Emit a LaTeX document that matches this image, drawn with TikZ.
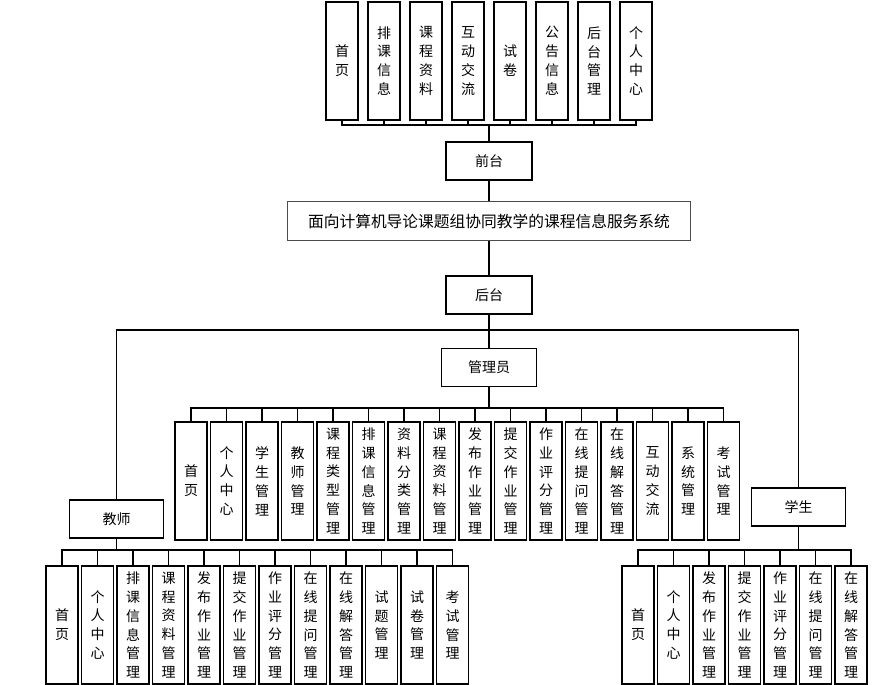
\documentclass[tikz,border=0pt]{standalone}
\usepackage{fontspec}
\setmainfont{Noto Sans CJK SC}
\begin{document}
\begin{tikzpicture}[x=0.75pt,y=-0.75pt,
  box/.style={draw,thick,fill=white,font=\fontsize{10.5pt}{13pt}\selectfont,inner sep=0pt},
  vbox/.style={box,minimum width=24pt,minimum height=88.5pt,align=center,font=\fontsize{10.5pt}{14.2pt}\selectfont},
  hbox/.style={box,minimum height=28.5pt},
  ln/.style={thick}]
\useasboundingbox (0,0) rectangle (885,685);
% top
\node[hbox,minimum width=64.5pt] (qt) at (489,161) {前台};
\coordinate (bt) at (489,125);
\foreach \t [count=\i] in {首\\页,排\\课\\信\\息,课\\程\\资\\料,互\\动\\交\\流,试\\卷,公\\告\\信\\息,后\\台\\管\\理,个\\人\\中\\心}{
  \node[vbox] (t\i) at ({342+42*(\i-1)},61) {\t};
  \draw[ln] (t\i.south) |- (bt);
}
\draw[ln] (qt.north) -- (bt);
\node[box,minimum width=302pt,minimum height=29pt,draw=black!70,font=\fontsize{11.8pt}{14pt}\selectfont] (sys) at (489,221) {面向计算机导论课题组协同教学的课程信息服务系统};
\node[hbox,minimum width=64.5pt] (ht) at (489,295) {后台};
\draw[ln] (qt.south) -- (sys.north);
\draw[ln] (sys.south) -- (ht.north);
\node[hbox,minimum width=71pt] (gly) at (489,367.5) {管理员};
\node[hbox,minimum width=70pt] (js) at (116.5,519) {教师};
\node[hbox,minimum width=70pt] (xs) at (798.5,507) {学生};
\coordinate (br) at (489,330);
\draw[ln] (ht.south) -- (gly.north);
\draw[ln] (js.north) |- (br);
\draw[ln] (xs.north) |- (br);
% admin
\coordinate (ba) at (489,408);
\draw[ln] (gly.south) -- (ba);
\foreach \t [count=\i] in {首\\页,个\\人\\中\\心,学\\生\\管\\理,教\\师\\管\\理,课\\程\\类\\型\\管\\理,排\\课\\信\\息\\管\\理,资\\料\\分\\类\\管\\理,课\\程\\资\\料\\管\\理,发\\布\\作\\业\\管\\理,提\\交\\作\\业\\管\\理,作\\业\\评\\分\\管\\理,在\\线\\提\\问\\管\\理,在\\线\\解\\答\\管\\理,互\\动\\交\\流,系\\统\\管\\理,考\\试\\管\\理}{
  \node[vbox] (a\i) at ({191+35.5*(\i-1)},481) {\t};
  \draw[ln] (a\i.north) |- (ba);
}
% teacher
\coordinate (bj) at (116.5,550);
\draw[ln] (js.south) -- (bj);
\foreach \t [count=\i] in {首\\页,个\\人\\中\\心,排\\课\\信\\息\\管\\理,课\\程\\资\\料\\管\\理,发\\布\\作\\业\\管\\理,提\\交\\作\\业\\管\\理,作\\业\\评\\分\\管\\理,在\\线\\提\\问\\管\\理,在\\线\\解\\答\\管\\理,试\\题\\管\\理,试\\卷\\管\\理,考\\试\\管\\理}{
  \node[vbox] (j\i) at ({62+35.5*(\i-1)},625) {\t};
  \draw[ln] (j\i.north) |- (bj);
}
% student
\coordinate (bx) at (798.5,550);
\draw[ln] (xs.south) -- (bx);
\foreach \t [count=\i] in {首\\页,个\\人\\中\\心,发\\布\\作\\业\\管\\理,提\\交\\作\\业\\管\\理,作\\业\\评\\分\\管\\理,在\\线\\提\\问\\管\\理,在\\线\\解\\答\\管\\理}{
  \node[vbox] (x\i) at ({638+35.5*(\i-1)},625) {\t};
  \draw[ln] (x\i.north) |- (bx);
}
\end{tikzpicture}
\end{document}
